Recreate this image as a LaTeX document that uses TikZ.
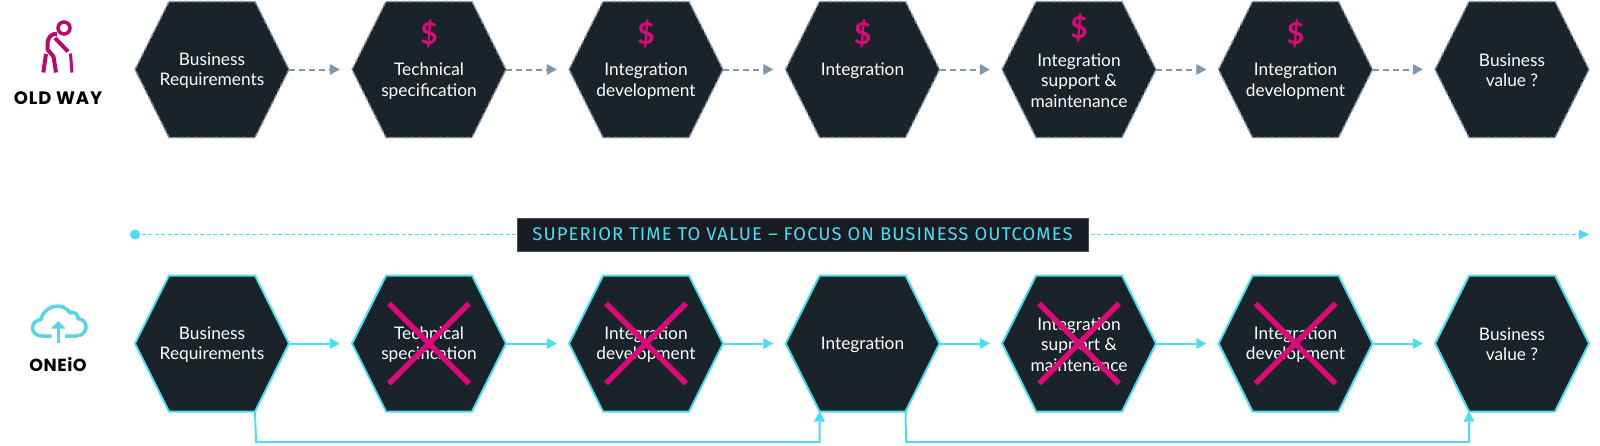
\documentclass[tikz,border=0pt]{standalone}
\usepackage{fontspec}
\setmainfont{Lato}
\newfontfamily\headfont[LetterSpace=6]{Fira Sans}
\newfontfamily\logofont[LetterSpace=5]{Poppins}
\newfontfamily\logofontb[LetterSpace=3]{Poppins}
\usetikzlibrary{arrows.meta}
\definecolor{hexfill}{HTML}{1A222A}
\definecolor{oldline}{HTML}{7F97AD}
\definecolor{newline}{HTML}{4DDDF2}
\definecolor{pinkx}{HTML}{DB0A7B}
\definecolor{iconpink}{HTML}{B80A68}
\definecolor{iconcyan}{HTML}{5CD2E6}
\definecolor{boxfill}{HTML}{161C22}
\tikzset{
  hexold/.style={fill=hexfill,draw=oldline,line width=1.5pt,dash pattern=on 5pt off 2pt},
  hexnew/.style={fill=hexfill,draw=newline,line width=2pt},
  hexbox/.style={minimum width=154pt,minimum height=136pt,inner sep=0pt},
  hextext/.style={text=white,font=\fontsize{17.3}{20.5}\selectfont,align=center,inner sep=0pt},
  dollar/.style={text=pinkx,font=\fontsize{30}{30}\selectfont\bfseries,inner sep=0pt},
  oldarrow/.style={draw=oldline,line width=2pt,dash pattern=on 6pt off 4pt,-{Triangle[length=10pt,width=11pt,fill=oldline,line width=0pt]}},
  newarrow/.style={draw=newline,line width=2pt,-{Triangle[length=10pt,width=11pt,fill=newline,line width=0pt]}},
  crossline/.style={draw=pinkx,line width=5.5pt},
  headlabel/.style={text=black,inner sep=0pt},
}
% \hexa{style}{name}{x}{y}{text}{text dy}
\newcommand{\hexa}[6]{%
  \begin{scope}[shift={(#3,#4)}]
    \path[#1] (-77,0) -- (-43,-68) -- (43,-68) -- (77,0) -- (43,68) -- (-43,68) -- cycle;
    \node[hexbox] (#2) at (0,0) {};
    \coordinate (#2-bl) at (-43,68);
    \coordinate (#2-br) at (43,68);
    \node[hextext] (#2-t) at (0,#6) {#5};
  \end{scope}}
\newcommand{\crossout}[1]{%
  \draw[crossline] ([shift={(-40,-40)}]#1.center) -- ([shift={(40,40)}]#1.center);
  \draw[crossline] ([shift={(-40,40)}]#1.center) -- ([shift={(40,-40)}]#1.center);}
\begin{document}
\begin{tikzpicture}[x=1pt,y=-1pt]
\useasboundingbox (0,0) rectangle (1600,445);
% old row
\hexa{hexold}{a1}{212}{69.5}{Business\\Requirements}{1}
\hexa{hexold}{a2}{429}{69.5}{Technical\\specification}{11.5}
\hexa{hexold}{a3}{646}{69.5}{Integration\\development}{11.5}
\hexa{hexold}{a4}{862.5}{69.5}{Integration}{1.5}
\hexa{hexold}{a5}{1079}{69.5}{Integration\\support \&\\maintenance}{11}
\hexa{hexold}{a6}{1295.5}{69.5}{Integration\\development}{11.5}
\hexa{hexold}{a7}{1512}{69.5}{Business\\value ?}{1}
\node[dollar] (d2) at (429,34) {\$};
\node[dollar] (d3) at (646,34) {\$};
\node[dollar] (d4) at (862.5,34) {\$};
\node[dollar] (d5) at (1079,28) {\$};
\node[dollar] (d6) at (1295.5,34) {\$};
\foreach \p/\q in {a1/a2,a2/a3,a3/a4,a4/a5,a5/a6,a6/a7}
  \draw[oldarrow] (\p.east) -- ([xshift=-12pt]\q.west);
% new row
\hexa{hexnew}{b1}{212}{343.5}{Business\\Requirements}{1}
\hexa{hexnew}{b2}{429}{343.5}{Technical\\specification}{1}
\hexa{hexnew}{b3}{646}{343.5}{Integration\\development}{1}
\hexa{hexnew}{b4}{862.5}{343.5}{Integration}{1}
\hexa{hexnew}{b5}{1079}{343.5}{Integration\\support \&\\maintenance}{1}
\hexa{hexnew}{b6}{1295.5}{343.5}{Integration\\development}{1}
\hexa{hexnew}{b7}{1512}{343.5}{Business\\value ?}{1}
\foreach \p/\q in {b1/b2,b2/b3,b3/b4,b4/b5,b5/b6,b6/b7}
  \draw[newarrow] (\p.east) -- ([xshift=-12pt]\q.west);
\foreach \n in {b2,b3,b5,b6} {\crossout{\n}}
% bottom connectors
\coordinate (c1) at (256,442);
\coordinate (c2) at (906,442);
\draw[newarrow] (b1-br) -- (c1) -| (b4-bl);
\draw[newarrow] (b4-br) -- (c2) -| (b7-bl);
% timeline
\fill[newline] (135,234.5) circle (5) coordinate (tstart);
\coordinate (tend) at (1589,234.5);
\draw[newline,line width=1pt,dash pattern=on 4pt off 2.5pt,-{Triangle[length=10pt,width=10pt,fill=newline,line width=0pt]}] (tstart) -- (tend);
\node[fill=boxfill,draw=black!70,line width=0.7pt,minimum width=571pt,minimum height=33pt,inner sep=0pt,
      text=newline,font=\headfont\fontsize{18.4}{18.4}\selectfont] (banner) at (802.5,234.5) {SUPERIOR TIME TO VALUE – FOCUS ON BUSINESS OUTCOMES};
% labels
\node[headlabel,font=\logofont\bfseries\fontsize{18}{18}\selectfont] (oldlab) at (58,98) {OLD WAY};
\node[headlabel,font=\logofontb\bfseries\fontsize{17.5}{17.5}\selectfont] (newlab) at (58,365) {ONEiO};
% old man icon
\draw[iconpink,line width=3.5pt] (64,28) circle (6);
\draw[iconpink,line width=4pt,line join=round] (57,34) .. controls (51,33) and (48,38) .. (47.5,43) -- (47.5,49.5) -- (53.5,56.5) -- (56,72.5);
\draw[iconpink,line width=4pt] (46,54) -- (43.3,72.5);
\draw[iconpink,line width=4pt] (55,38) -- (68,51.5);
\draw[iconpink,line width=3pt] (70.5,53.5) -- (72,72.5);
% cloud icon
\draw[iconcyan,line width=3.5pt,line join=round]
  (51.5,336) -- (42,336) .. controls (30,336) and (29,321) .. (41,319.5)
  .. controls (43,307) and (62,300) .. (70,313)
  .. controls (74,311) and (78,314) .. (78,318.5)
  .. controls (90,320) and (88,336) .. (76,336) -- (65,336);
\draw[iconcyan,line width=3.5pt] (58.3,343) -- (58.3,326);
\fill[iconcyan] (51,328.5) -- (58.3,321) -- (65.6,328.5) -- cycle;
\end{tikzpicture}
\end{document}
